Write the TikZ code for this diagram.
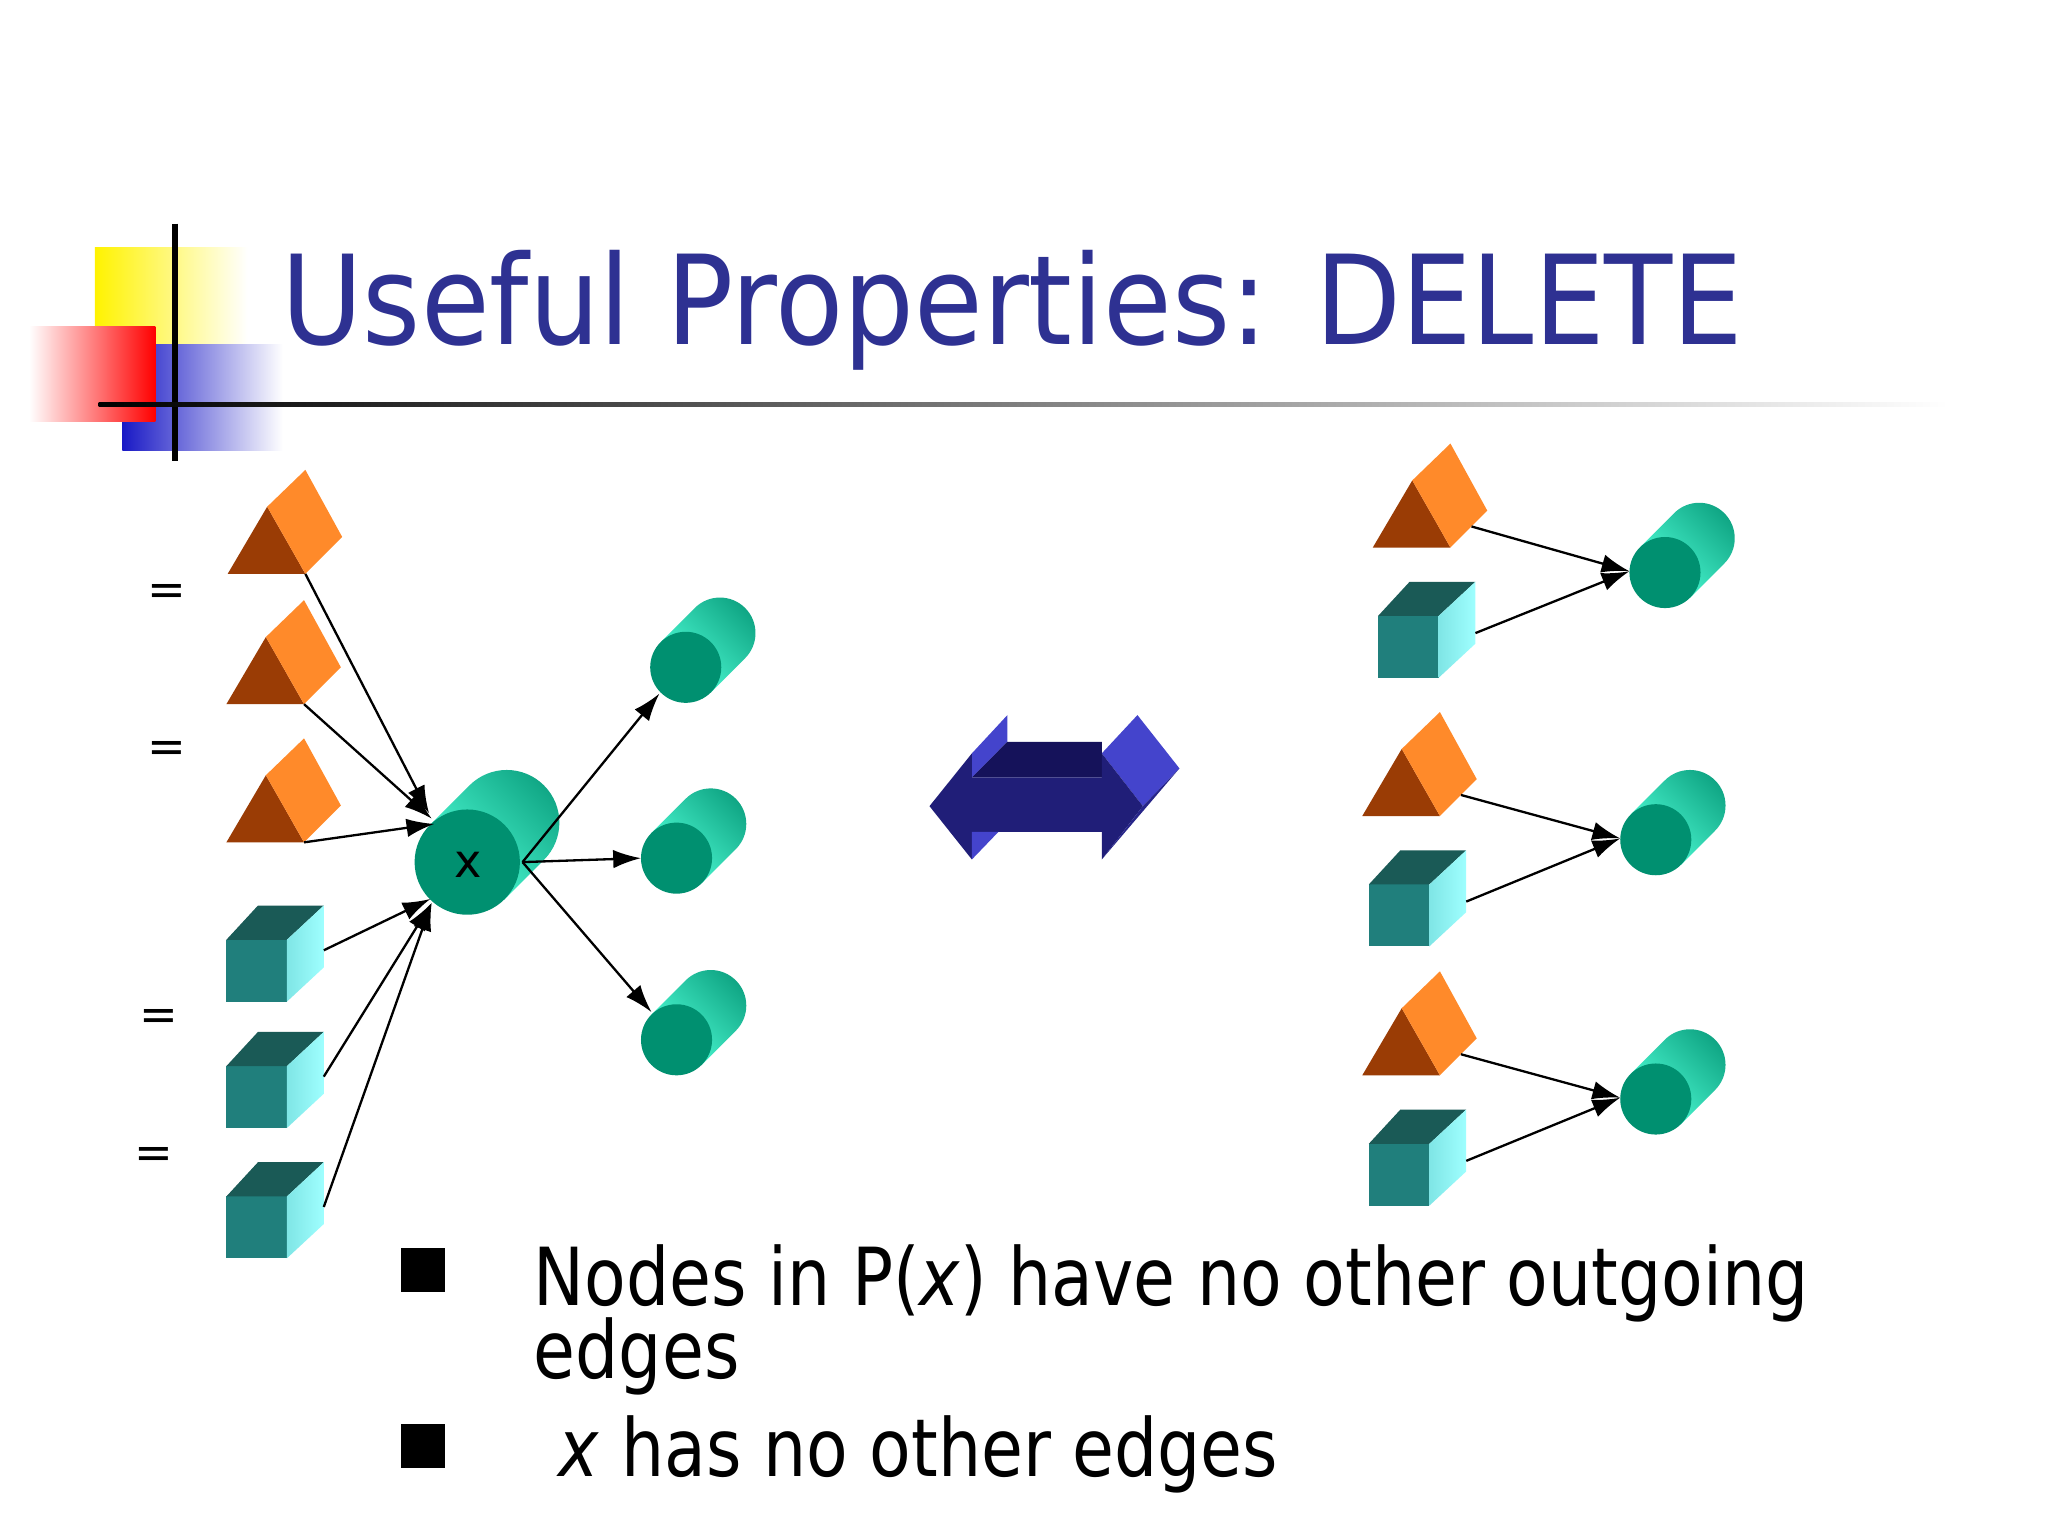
\documentclass[tikz,border=0pt]{standalone}
\usepackage{fontspec}
\setmainfont{DejaVu Sans}
\usetikzlibrary{arrows.meta}
\definecolor{ttl}{HTML}{2E3192}
\definecolor{pdark}{HTML}{9A3C05}
\definecolor{porg}{HTML}{FF8A2A}
\definecolor{cfront}{HTML}{207F7C}
\definecolor{ctop}{HTML}{1A5A56}
\definecolor{cside}{HTML}{9FFFFF}
\definecolor{gfront}{HTML}{009070}
\definecolor{gbody}{HTML}{50FFD8}
\definecolor{adark}{HTML}{201E78}
\definecolor{atop}{HTML}{15125A}
\definecolor{alight}{HTML}{4444CC}
\tikzset{edge/.style={-{Latex[length=6,width=4]},line width=0.5pt},
 eq/.style={font=\fontsize{10}{10}\selectfont}}
\newcommand{\pyr}[3]{%
 \fill[pdark] (#2,#3) -- ({#2+59},#3) -- ({#2+30},{#3-51}) -- cycle;
 \fill[porg] ({#2+30},{#3-51}) -- ({#2+59},{#3-79}) -- ({#2+87},{#3-28}) -- ({#2+59},#3) -- cycle;
 \coordinate (#1) at ({#2+59},#3);
 \coordinate (#1r) at ({#2+75},{#3-16});}
\newcommand{\cube}[3]{%
 \fill[cfront] (#2,#3) rectangle ({#2+46},{#3+47});
 \fill[ctop] (#2,#3) -- ({#2+24},{#3-26}) -- ({#2+74},{#3-26}) -- ({#2+46},#3) -- cycle;
 \shade[left color=cside!80!teal, right color=cside] ({#2+46},#3) -- ({#2+74},{#3-26}) -- ({#2+74},{#3+21}) -- ({#2+46},{#3+47}) -- cycle;
 \coordinate (#1) at ({#2+74},{#3+8});
 \coordinate (#1r) at ({#2+74},{#3+13});}
\newcommand{\cyl}[5]{% name cx cy r d
 \shade[shading=axis, top color=gfront!80!gbody, bottom color=gbody, shading angle=-45]
   ({#2+0.7071*#4},{#3+0.7071*#4}) -- ({#2+#5+0.7071*#4},{#3-#5+0.7071*#4})
   arc[start angle=45, end angle=-135, radius=#4] -- ({#2-0.7071*#4},{#3-0.7071*#4}) -- cycle;
 \fill[gfront] (#2,#3) circle[radius=#4];
 \coordinate (#1) at (#2,#3);}
\begin{document}
\begin{tikzpicture}[x=0.01cm,y=-0.01cm]
\useasboundingbox (0,0) rectangle (1556,1167);
\fill[white] (0,0) rectangle (1556,1167);
% logo
\shade[left color=yellow!90!orange, right color=white] (72,188) rectangle (188,305);
\shade[left color=blue!75!black!90, right color=white] (93,262) rectangle (215,342);
\shade[left color=white, right color=red] (22,248) rectangle (118,320);
\draw[line width=1.2pt] (133,170) -- (133,350);
\shade[left color=black, right color=white] (75,305.5) rectangle (1480,309);
\node[anchor=base west, text=ttl, inner sep=0, xscale=0.9, font=\fontsize{26.8}{26.8}\selectfont] (title) at (213,262) {Useful Properties: DELETE};
% left pyramids & cubes
\pyr{p1}{173}{436}
\pyr{p2}{172}{535}
\pyr{p3}{172}{640}
\cube{c1}{172}{714}
\cube{c2}{172}{810}
\cube{c3}{172}{909}
\node[eq] (e1) at (127,452) {=};
\node[eq] (e2) at (127,571) {=};
\node[eq] (e3) at (121,775) {=};
\node[eq] (e4) at (117,880) {=};
% center x
\cyl{xc}{355}{655}{40}{30}
\node[font=\fontsize{10}{10}\selectfont] (x) at (356,657) {x};
\cyl{o1}{521}{507}{27}{26}
\cyl{o2}{514}{652}{27}{26}
\cyl{o3}{514}{790}{27}{26}
\coordinate (xin1) at (326,618);
\coordinate (xin2) at (328,622);
\coordinate (xin3) at (330,626);
\coordinate (xin4) at (327,683);
\coordinate (xin5) at (328,686);
\coordinate (xout) at (397,655);
\coordinate (t1) at (501,527);
\coordinate (t2) at (487,652);
\coordinate (t3) at (495,769);
\draw[edge] (p1) -- (xin1);
\draw[edge] (p2) -- (xin2);
\draw[edge] (p3) -- (xin3);
\draw[edge] (c1) -- (xin4);
\draw[edge] (c2) -- (xin5);
\draw[edge] (c3) -- (xin5);
\draw[edge] (xout) -- (t1);
\draw[edge] (xout) -- (t2);
\draw[edge] (xout) -- (t3);
% double arrow
\fill[alight] (738.4,572.4) -- (765.4,543.3) -- (765.4,563.6) -- (738.4,590.7) -- cycle;
\fill[atop] (765.4,563.6) -- (837.1,563.6) -- (837.1,590.7) -- (738.4,590.7) -- cycle;
\fill[alight] (837.1,572.4) -- (864.2,543.3) -- (896.1,583.8) -- (868.3,612.5) -- cycle;
\fill[adark] (706.2,612.5) -- (738.4,572.4) -- (738.4,590.7) -- (837.1,590.7) -- (837.1,572.4) -- (868.3,612.5) -- (837.1,653) -- (837.1,632) -- (738.4,632) -- (738.4,653) -- cycle;
\fill[alight] (738.4,632) -- (758.6,632) -- (738.4,653) -- cycle;
\fill[adark!80!alight] (868.3,612.5) -- (896.1,583.8) -- (837.1,653) -- cycle;
% right groups
\pyr{rp1}{1043}{416}
\cube{rc1}{1047}{468}
\cyl{ro1}{1265}{435}{27}{26}
\pyr{rp2}{1035}{620}
\cube{rc2}{1040}{672}
\cyl{ro2}{1258}{638}{27}{26}
\pyr{rp3}{1035}{817}
\cube{rc3}{1040}{869}
\cyl{ro3}{1258}{835}{27}{26}
\coordinate (r1) at (1238,434);
\coordinate (r2) at (1231,637);
\coordinate (r3) at (1231,834);
\draw[edge] (rp1r) -- (r1);
\draw[edge] (rc1r) -- (r1);
\draw[edge] (rp2r) -- (r2);
\draw[edge] (rc2r) -- (r2);
\draw[edge] (rp3r) -- (r3);
\draw[edge] (rc3r) -- (r3);
% bullets
\tikzset{btxt/.style={anchor=base west, inner sep=0, xscale=0.85, font=\fontsize{17.3}{17.3}\selectfont}}
\fill (305,948) rectangle (338,982);
\fill (305,1082) rectangle (338,1115);
\node[btxt] (b1) at (405,992) {Nodes in P(\textit{x}) have no other outgoing};
\node[btxt] (b1b) at (405,1047) {edges};
\node[btxt] (b2) at (424,1122) {\textit{x} has no other edges};
\end{tikzpicture}
\end{document}
